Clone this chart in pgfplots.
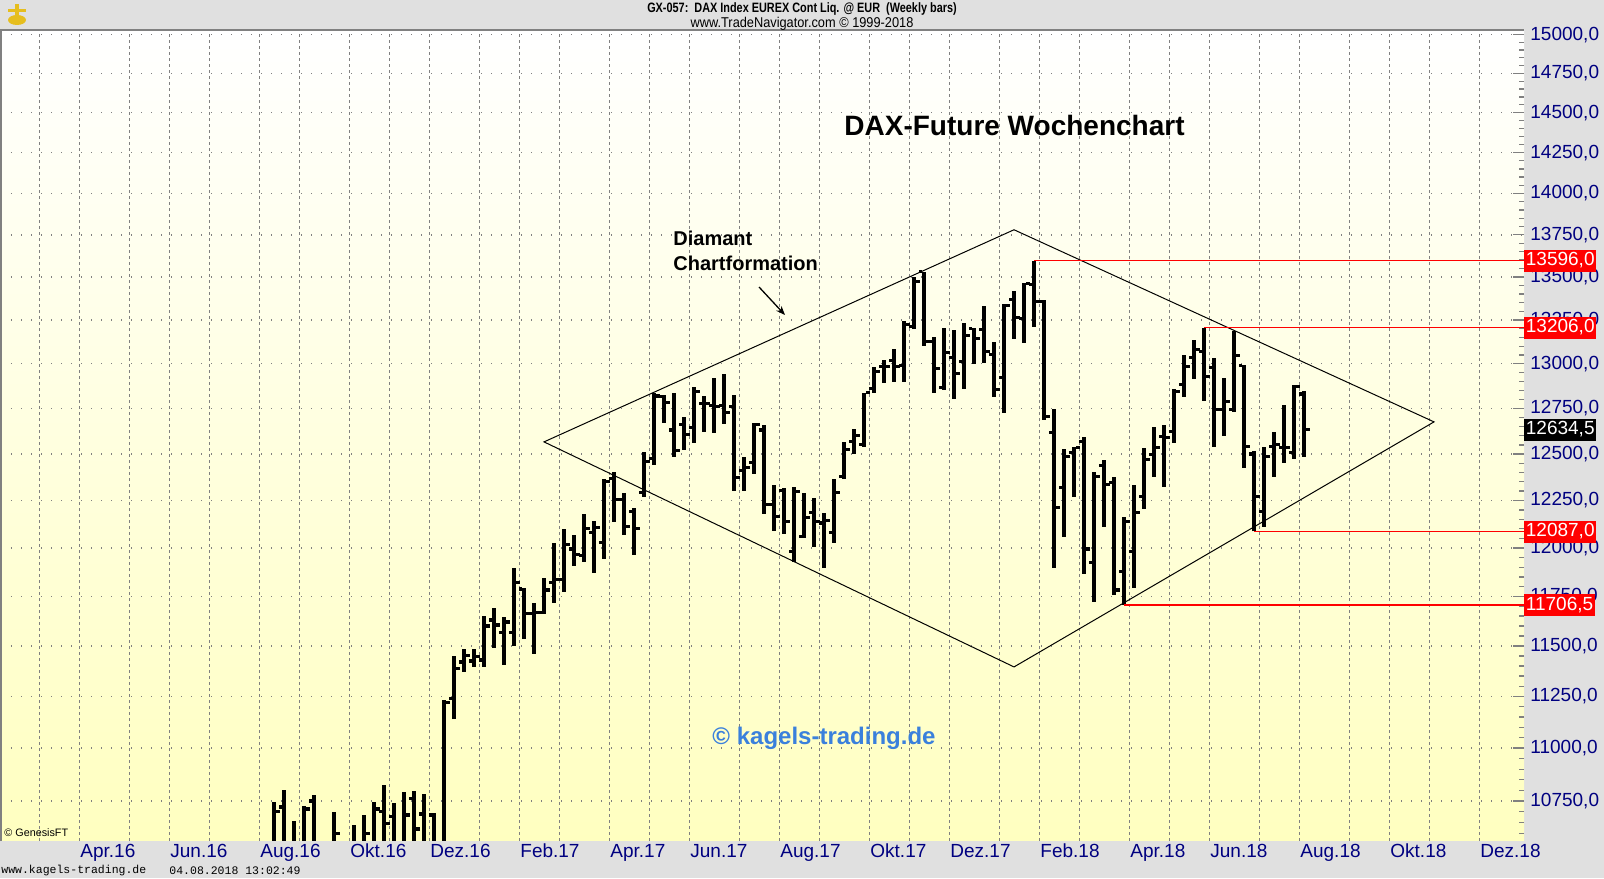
\documentclass[border=0pt]{standalone}
\usepackage{fontspec}
\setmainfont{Liberation Sans}
\newfontfamily\narrowfont[FakeStretch=0.8]{Liberation Sans}
\newfontfamily\semifont[FakeStretch=0.9]{Liberation Sans}
\newfontfamily\monofont{Liberation Mono}
\usepackage{pgfplots}
\usepackage{pgfplotstable}
\pgfplotsset{compat=1.18}
\usetikzlibrary{arrows.meta}

\definecolor{bggray}{RGB}{224,224,224}
\definecolor{navy}{RGB}{0,0,128}
\definecolor{byellow}{RGB}{255,255,192}
\definecolor{gridgray}{RGB}{128,128,128}
\definecolor{kblue}{RGB}{58,128,220}
\definecolor{gold}{RGB}{230,190,30}

\pgfdeclareplotmark{otick}{\pgfpathrectangle{\pgfpoint{-2.75pt}{-0.8pt}}{\pgfpoint{1.8pt}{1.6pt}}\pgfusepathqfill}
\pgfdeclareplotmark{ctick}{\pgfpathrectangle{\pgfpoint{0.95pt}{-0.8pt}}{\pgfpoint{1.8pt}{1.6pt}}\pgfusepathqfill}

% weekly OHLC bars, w = weeks relative to week of 22 Jan 2018
\pgfplotstableread{
w o h l c
-76 10500 10745 10450 10700
-75 10722 10801 10500 10550
-74 10550 10657 10400 10450
-73 10500 10727 10450 10713
-72 10750 10778 10500 10550
-71 10500 10550 10250 10300
-70 10350 10699 10300 10600
-69 10450 10520 10200 10300
-68 10300 10638 10200 10550
-67 10450 10685 10350 10600
-66 10550 10745 10400 10713
-65 10700 10825 10550 10645
-64 10680 10740 10450 10500
-63 10550 10792 10450 10685
-62 10760 10797 10500 10620
-61 10690 10783 10450 10550
-60 10685 10694 10450 10500
-59 10500 11234 10450 11220
-58 11241 11450 11140 11386
-57 11420 11486 11371 11452
-56 11425 11486 11395 11445
-55 11430 11651 11395 11600
-54 11630 11692 11490 11605
-53 11565 11646 11406 11620
-52 11565 11897 11500 11820
-51 11788 11794 11535 11662
-50 11662 11717 11460 11667
-49 11667 11845 11662 11783
-48 11820 12027 11717 11835
-47 11835 12100 11774 12017
-46 11995 12069 11907 11965
-45 11959 12180 11928 12100
-44 12079 12142 11871 12106
-43 12027 12367 11943 12351
-42 12367 12404 12137 12254
-41 12254 12291 12069 12111
-40 12190 12211 11965 12100
-39 12291 12513 12270 12458
-38 12474 12838 12442 12820
-37 12815 12827 12671 12782
-36 12632 12838 12485 12520
-35 12660 12704 12524 12605
-34 12644 12871 12561 12843
-33 12776 12821 12622 12776
-32 12765 12922 12617 12760
-31 12765 12944 12666 12726
-30 12760 12827 12302 12372
-29 12410 12485 12302 12426
-28 12453 12671 12394 12660
-27 12632 12660 12180 12227
-26 12227 12335 12089 12164
-25 12302 12318 12074 12137
-24 11980 12324 11928 12297
-23 12058 12291 12053 12158
-22 12185 12265 12006 12137
-21 12131 12186 11897 12142
-20 12079 12367 12027 12291
-19 12377 12567 12367 12524
-18 12567 12639 12501 12600
-17 12551 12838 12540 12838
-16 12860 12984 12838 12956
-15 12984 13023 12894 12984
-14 13018 13086 12899 12984
-13 12990 13246 12899 13224
-12 13212 13502 13200 13473
-11 13531 13531 13103 13126
-10 13126 13155 12838 12972
-9 12866 13206 12855 13063
-8 13035 13195 12804 12944
-7 13012 13234 12861 13160
-6 13200 13206 13001 13143
-5 13195 13333 13007 13069
-4 13052 13126 12815 12855
-3 12922 13344 12726 13333
-2 13368 13420 13143 13263
-1 13258 13467 13120 13461
0 13455 13596 13212 13356
1 13356 13368 12688 12704
2 12616 12749 11897 12211
3 12318 12529 12058 12485
4 12507 12540 12270 12534
5 12567 12595 11866 11995
6 11923 12404 11722 12377
7 12437 12469 12111 12335
8 12345 12377 11757 11783
9 11877 12164 11706.5 12140
10 11980 12335 11794 12185
11 12270 12534 12205 12469
12 12496 12649 12377 12534
13 12595 12660 12324 12589
14 12622 12860 12561 12843
15 12883 13052 12815 12984
16 13035 13137 12916 13081
17 13069 13206 12793 12927
18 12978 13035 12540 12743
19 12743 12922 12600 12787
20 12743 13189 12732 13046
21 12990 12995 12426 12540
22 12500 12518 12087 12270
23 12190 12540 12111 12485
24 12540 12622 12377 12551
25 12534 12771 12453 12534
26 12507 12883 12474 12871
27 12830 12849 12485 12634.5
}\ohlc

\begin{document}
\begin{tikzpicture}[x=0.5pt,y=0.5pt]
\useasboundingbox (0,0) rectangle (1604,878);
\fill[bggray] (0,0) rectangle (1604,878);
\pgfplotstablegetrowsof{\ohlc}
\pgfmathtruncatemacro{\lastrow}{\pgfplotsretval-1}
\begin{axis}[
  at={(0.5pt,18.5pt)}, anchor=south west,
  width=761.5pt, height=405.5pt, scale only axis,
  xmin=-103.3, xmax=49.0,
  ymode=log, ymin=10566, ymax=15032,
  axis line style={draw=none},
  axis background/.style={shade, top color=white, bottom color=byellow},
  xtick={-95.5,-86.5,-77.5,-68.5,-60.5,-51.5,-42.5,-34.5,-25.5,-16.5,-8.5,0.5,9.5,17.5,26.5,35.5,44.5},
  xticklabels={Apr.16,Jun.16,Aug.16,Okt.16,Dez.16,Feb.17,Apr.17,Jun.17,Aug.17,Okt.17,Dez.17,Feb.18,Apr.18,Jun.18,Aug.18,Okt.18,Dez.18},
  minor xtick={-99.5,-95.5,-90.5,-86.5,-82.5,-77.5,-73.5,-68.5,-64.5,-60.5,-55.5,-51.5,-47.5,-42.5,-38.5,-34.5,-29.5,-25.5,-21.5,-16.5,-12.5,-8.5,-3.5,0.5,4.5,9.5,13.5,17.5,22.5,26.5,31.5,35.5,39.5,44.5},
  xminorgrids=true,
  minor x grid style={gridgray, line width=0.5pt, dash pattern=on 1.5pt off 1.5pt},
  xtick style={draw=none},
  xticklabel style={anchor=base west, inner sep=0pt, yshift=-8.5pt, xshift=0.5pt, text=navy, font=\fontsize{9.5}{9.5}\selectfont},
  ytick={10750,11000,11250,11500,11750,12000,12250,12500,12750,13000,13250,13500,13750,14000,14250,14500,14750,15000},
  yticklabels={{10750,0},{11000,0},{11250,0},{11500,0},{11750,0},{12000,0},{12250,0},{12500,0},{12750,0},{13000,0},{13250,0},{13500,0},{13750,0},{14000,0},{14250,0},{14500,0},{14750,0},{15000,0}},
  minor ytick={10600,10650,10700,10800,10850,10900,10950,11050,11100,11150,11200,11300,11350,11400,11450,11550,11600,11650,11700,11800,11850,11900,11950,12050,12100,12150,12200,12300,12350,12400,12450,12550,12600,12650,12700,12800,12850,12900,12950,13050,13100,13150,13200,13300,13350,13400,13450,13550,13600,13650,13700,13800,13850,13900,13950,14050,14100,14150,14200,14300,14350,14400,14450,14550,14600,14650,14700,14800,14850,14900,14950},
  ytick pos=right, yticklabel pos=right, tick align=inside,
  major tick length=5.5pt, minor tick length=2.5pt,
  ytick style={draw=gridgray, line width=0.65pt},
  yticklabel style={anchor=west, inner sep=0pt, xshift=3pt, text=navy, font=\fontsize{9.5}{9.5}\selectfont},
  ymajorgrids=true,
  major y grid style={gridgray, line width=0.7pt, dash pattern=on 0.7pt off 4.3pt},
  clip marker paths=true,
]
% high-low bars
\pgfplotsforeachungrouped \i in {0,...,\lastrow}{%
  \pgfplotstablegetelem{\i}{w}\of\ohlc \let\bw=\pgfplotsretval
  \pgfplotstablegetelem{\i}{h}\of\ohlc \let\bh=\pgfplotsretval
  \pgfplotstablegetelem{\i}{l}\of\ohlc \let\bl=\pgfplotsretval
  \edef\doplot{\noexpand\addplot[black, line width=2pt, forget plot] coordinates {(\bw,\bl) (\bw,\bh)};}%
  \doplot
}
% open and close ticks
\addplot[only marks, mark=otick, black, forget plot] table[x=w, y=o]{\ohlc};
\addplot[only marks, mark=ctick, black, forget plot] table[x=w, y=c]{\ohlc};
% diamond formation
\draw[black, line width=0.5pt] (axis cs:-49,12566) -- (axis cs:-2,13780) -- (axis cs:40,12676) -- (axis cs:-2,11395) -- cycle;
% level lines
\draw[red, line width=0.6pt] (axis cs:0,13596) -- (axis cs:49,13596);
\draw[red, line width=0.6pt] (axis cs:17,13206) -- (axis cs:49,13206);
\draw[red, line width=0.6pt] (axis cs:22,12087) -- (axis cs:49,12087);
\draw[red, line width=0.6pt] (axis cs:9,11706.5) -- (axis cs:49,11706.5);
\coordinate (L1) at (axis cs:49,13596);
\coordinate (L2) at (axis cs:49,13206);
\coordinate (L3) at (axis cs:49,12634.5);
\coordinate (L4) at (axis cs:49,12087);
\coordinate (L5) at (axis cs:49,11706.5);
\end{axis}
% frame
\draw[gridgray, line width=0.75pt] (0.75,37) -- (0.75,848) -- (1524,848);
% price boxes
\tikzset{pbox/.style={anchor=west, inner xsep=0.75pt, inner ysep=1pt, text height=7pt, text depth=2pt, text=white, font=\fontsize{9.5}{9.5}\selectfont}}
\node[pbox, fill=red] at (L1) {13596,0};
\node[pbox, fill=red] at (L2) {13206,0};
\node[pbox, fill=black] at (L3) {12634,5};
\node[pbox, fill=red] at (L4) {12087,0};
\node[pbox, fill=red] at (L5) {11706,5};
% header
\node[font=\narrowfont\bfseries\fontsize{6.8}{7}\selectfont] at (802,869.5) {GX-057:\ \ DAX Index EUREX Cont Liq. @ EUR\ \ (Weekly bars)};
\node[font=\semifont\fontsize{7.1}{7.5}\selectfont] at (802,854.5) {www.TradeNavigator.com © 1999-2018};
% logo
\fill[gold] (17,858) ellipse (9 and 5);
\fill[gold] (15,858) rectangle (19,874);
\fill[gold] (8,866) rectangle (26,869);
% annotations
\node[font=\bfseries\fontsize{14}{15}\selectfont] at (1014.5,752) {DAX-Future Wochenchart};
\node[anchor=west, inner sep=0pt, font=\bfseries\fontsize{10}{11}\selectfont] at (673,640) {Diamant};
\node[anchor=west, inner sep=0pt, font=\bfseries\fontsize{10}{11}\selectfont] at (673,615) {Chartformation};
\draw[line width=0.65pt, -{Stealth[length=4.5pt,width=3.5pt]}] (759,591) -- (785,563);
\node[text=kblue, font=\bfseries\fontsize{12}{13}\selectfont] at (824,140) {© kagels-trading.de};
\node[anchor=west, inner sep=0pt, font=\fontsize{5.4}{6}\selectfont] at (4,45) {© GenesisFT};
\node[anchor=west, inner sep=0pt, font=\monofont\fontsize{5.75}{6}\selectfont] at (1,7) {www.kagels-trading.de};
\node[anchor=west, inner sep=0pt, font=\monofont\fontsize{5.75}{6}\selectfont] at (169,7) {04.08.2018 13:02:49};
\end{tikzpicture}
\end{document}
